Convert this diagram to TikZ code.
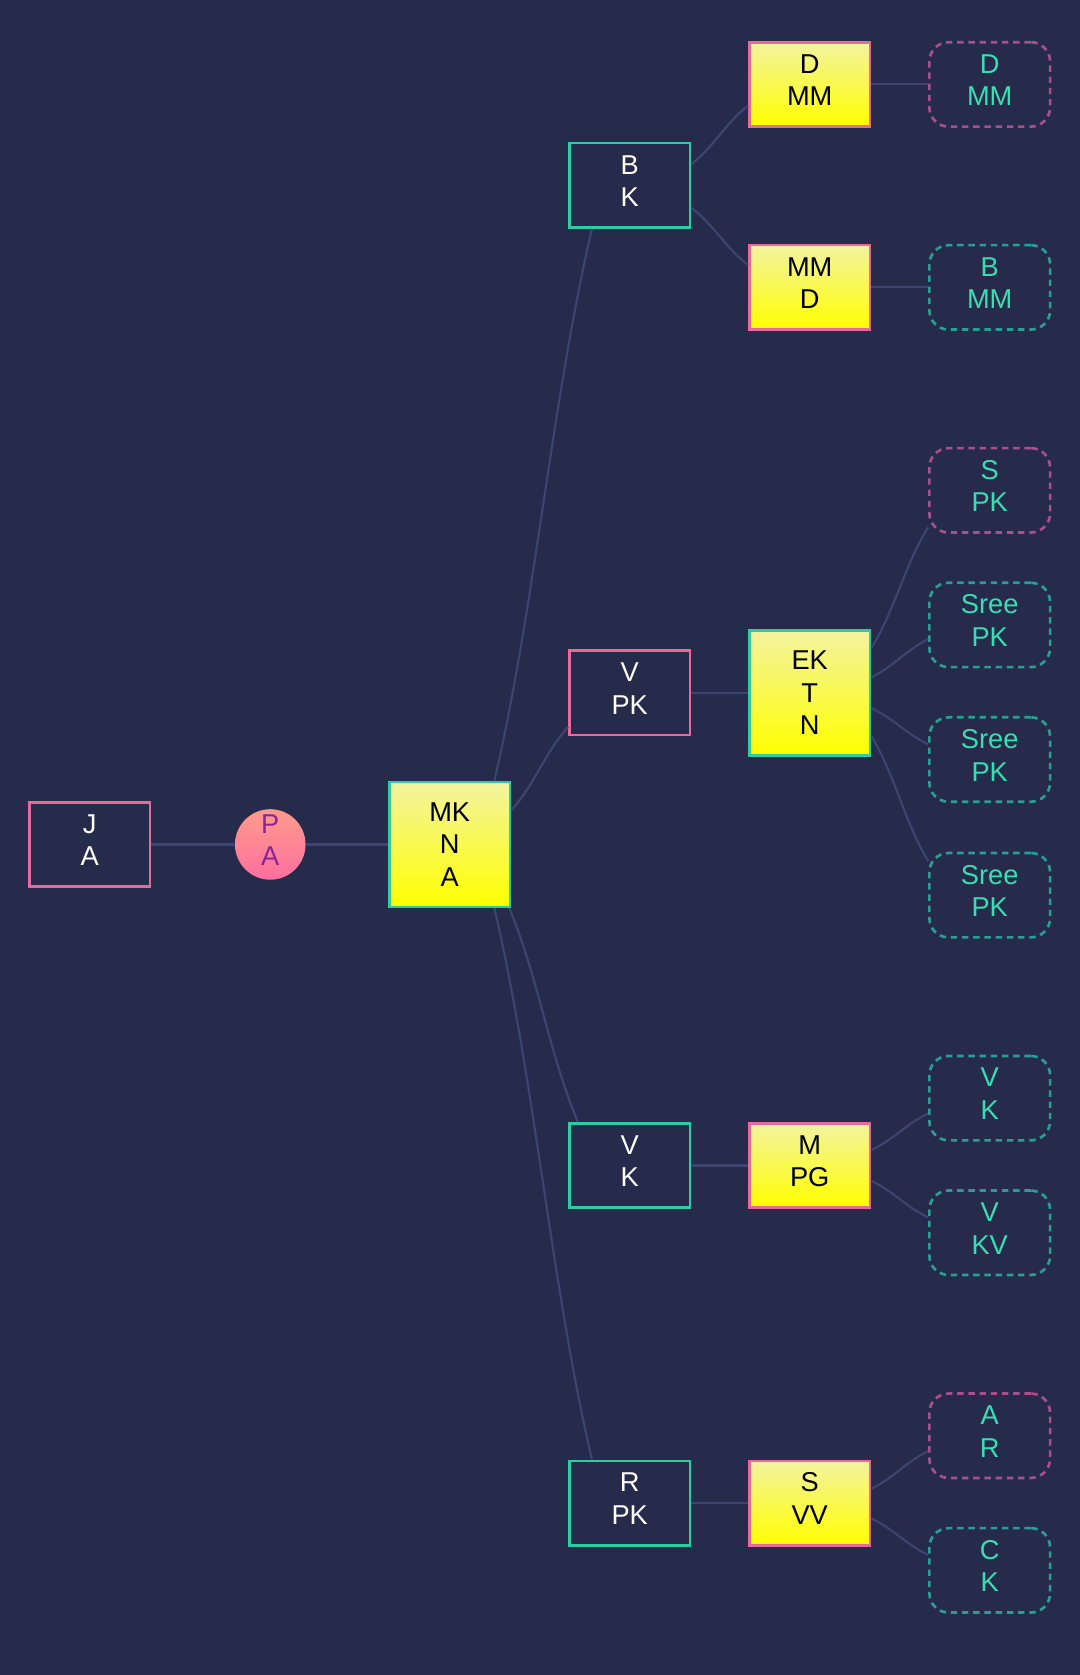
\documentclass[tikz,border=0pt]{standalone}
\usepackage{fontspec}
\setmainfont{Liberation Sans}
\usetikzlibrary{calc}
\definecolor{bg}{RGB}{39,43,75}
\definecolor{pinkb}{RGB}{232,106,154}
\definecolor{tealb}{RGB}{44,205,160}
\definecolor{edgec}{RGB}{60,69,112}
\definecolor{ytop}{RGB}{243,243,160}
\definecolor{ybot}{RGB}{255,255,0}
\definecolor{leafpink}{RGB}{168,80,140}
\definecolor{leafteal}{RGB}{42,158,146}
\definecolor{leaftext}{RGB}{59,221,178}
\definecolor{ctop}{RGB}{255,155,138}
\definecolor{cbot}{RGB}{255,111,160}
\definecolor{ctext}{RGB}{138,37,151}
\tikzset{
  txt/.style={align=center, inner sep=0pt, text depth=8pt, font=\fontsize{25.5}{30.6}\selectfont},
  base/.style={txt, minimum width=113pt, minimum height=79pt, line width=2.5pt},
  darkbox/.style={base, fill=bg, text=white},
  ybox/.style={base, top color=ytop, bottom color=ybot, text=black},
  tall/.style={minimum height=117pt, text depth=-5pt},
  pinkline/.style={draw=pinkb},
  tealline/.style={draw=tealb},
  leaf/.style={base, rounded corners=18pt, dash pattern=on 6pt off 4.5pt, fill=bg, text=leaftext},
  leafp/.style={leaf, draw=leafpink},
  leaft/.style={leaf, draw=leafteal},
  circ/.style={txt, circle, minimum size=66pt, top color=ctop, bottom color=cbot, text=ctext},
  edge/.style={draw=edgec, line width=2pt}
}
\newcommand\sedge[2]{\draw[edge] let \p1=(#1), \p2=(#2) in (\p1) .. controls ({\x1+0.42*(\x2-\x1)},{\y1+0.32*(\y2-\y1)}) and ({\x2-0.42*(\x2-\x1)},{\y2-0.32*(\y2-\y1)}) .. (\p2);}
\begin{document}
\begin{tikzpicture}[x=1pt,y=1pt]
\useasboundingbox (0,0) rectangle (1011,-1568);
\fill[bg] (0,0) rectangle (1011,-1568);
% nodes
\node[darkbox, pinkline] (ja) at (84,-790.5) {J\\A};
\node[circ] (pa) at (253,-790.5) {P\\A};
\node[ybox, tall, tealline] (mkna) at (421,-790.5) {MK\\N\\A};
\node[darkbox, tealline] (bk) at (589.5,-173.5) {B\\K};
\node[darkbox, pinkline] (vpk) at (589.5,-648.5) {V\\PK};
\node[darkbox, tealline] (vk) at (589.5,-1091) {V\\K};
\node[darkbox, tealline] (rpk) at (589.5,-1407) {R\\PK};
\node[ybox, pinkline] (dmm) at (758,-79) {D\\MM};
\node[ybox, pinkline] (mmd) at (758,-269) {MM\\D};
\node[ybox, tall, tealline] (ektn) at (758,-648.5) {EK\\T\\N};
\node[ybox, pinkline] (mpg) at (758,-1091) {M\\PG};
\node[ybox, pinkline] (svv) at (758,-1407) {S\\VV};
\node[leafp] (l1) at (926.5,-79) {D\\MM};
\node[leaft] (l2) at (926.5,-269) {B\\MM};
\node[leafp] (l3) at (926.5,-459) {S\\PK};
\node[leaft] (l4) at (926.5,-585) {Sree\\PK};
\node[leaft] (l5) at (926.5,-711) {Sree\\PK};
\node[leaft] (l6) at (926.5,-838) {Sree\\PK};
\node[leaft] (l7) at (926.5,-1028) {V\\K};
\node[leaft] (l8) at (926.5,-1154) {V\\KV};
\node[leafp] (l9) at (926.5,-1344) {A\\R};
\node[leaft] (l10) at (926.5,-1470) {C\\K};
% straight edges
\draw[edge] (ja) -- (pa);
\draw[edge] (pa) -- (mkna);
\draw[edge] (vpk) -- (ektn);
\draw[edge] (dmm) -- (l1);
\draw[edge] (mmd) -- (l2);
\draw[edge] (vk) -- (mpg);
\draw[edge] (rpk) -- (svv);
% curved edges
\sedge{mkna.55}{bk.229}
\sedge{mkna.29}{vpk.209}
\sedge{mkna.-47}{vk.140}
\sedge{mkna.-55}{rpk.131}
\sedge{bk.19}{dmm.199}
\sedge{bk.-20}{mmd.160}
\sedge{ektn.36}{l3.211}
\sedge{ektn.14}{l4.193}
\sedge{ektn.-14}{l5.166}
\sedge{ektn.-35}{l6.151}
\sedge{mpg.14}{l7.194}
\sedge{mpg.-14}{l8.166}
\sedge{svv.13}{l9.194}
\sedge{svv.-14}{l10.166}
\end{tikzpicture}
\end{document}
